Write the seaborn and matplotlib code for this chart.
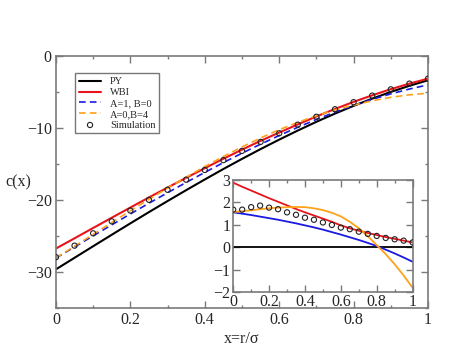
import matplotlib
matplotlib.use("Agg")
import matplotlib.pyplot as plt
from matplotlib.ticker import MultipleLocator
import seaborn as sns
import pandas as pd

# ---- data ----
x = [0.00, 0.05, 0.10, 0.15, 0.20, 0.25, 0.30, 0.35, 0.40, 0.45, 0.50,
     0.55, 0.60, 0.65, 0.70, 0.75, 0.80, 0.85, 0.90, 0.95, 1.00]

py_main = [-29.60, -28.00, -26.40, -24.81, -23.23, -21.67, -20.14, -18.63, -17.15, -15.70, -14.30,
           -12.94, -11.63, -10.37, -9.16, -8.02, -6.95, -5.95, -5.02, -4.17, -3.40]
wbi_main = [-26.72, -25.30, -23.87, -22.45, -21.04, -19.64, -18.27, -16.92, -15.59, -14.28, -13.02,
            -11.80, -10.65, -9.52, -8.42, -7.38, -6.40, -5.49, -4.64, -3.87, -3.18]
a1b0_main = [-28.04, -26.50, -24.96, -23.44, -21.93, -20.44, -18.99, -17.56, -16.17, -14.81, -13.51,
             -12.26, -11.06, -9.92, -8.83, -7.82, -6.89, -6.05, -5.29, -4.62, -4.04]
a0b4_main = [-28.03, -26.39, -24.75, -23.11, -21.49, -19.90, -18.35, -16.83, -15.36, -13.96, -12.64,
             -11.40, -10.25, -9.23, -8.31, -7.52, -6.85, -6.25, -5.77, -5.42, -5.20]
sim_main = [-27.92, -26.32, -24.61, -22.95, -21.46, -19.97, -18.58, -17.18, -15.83, -14.47, -13.19,
            -11.94, -10.75, -9.56, -8.46, -7.42, -6.44, -5.53, -4.66, -3.87, -3.18]

# inset: difference from PY
py_diff = [0.0] * 21
wbi_diff = [2.88, 2.70, 2.53, 2.36, 2.19, 2.03, 1.87, 1.71, 1.56, 1.42, 1.28,
            1.14, 0.98, 0.85, 0.74, 0.64, 0.55, 0.46, 0.38, 0.30, 0.22]
a1b0_diff = [1.56, 1.50, 1.44, 1.37, 1.30, 1.23, 1.15, 1.07, 0.98, 0.89, 0.79,
             0.68, 0.57, 0.45, 0.33, 0.20, 0.06, -0.10, -0.27, -0.45, -0.64]
a0b4_diff = [1.57, 1.61, 1.65, 1.70, 1.74, 1.77, 1.79, 1.80, 1.79, 1.74, 1.66,
             1.54, 1.38, 1.14, 0.85, 0.50, 0.10, -0.30, -0.75, -1.25, -1.80]
sim_diff = [1.68, 1.68, 1.79, 1.86, 1.77, 1.70, 1.56, 1.45, 1.32, 1.23, 1.11,
            1.00, 0.88, 0.81, 0.70, 0.60, 0.51, 0.42, 0.36, 0.30, 0.22]

labels = ["PY", "WBI", "A=1, B=0", "A=0,B=4", "Simulation"]
main_x_ticks = [0, 0.2, 0.4, 0.6, 0.8, 1]
main_x_ticklabels = ["0", "0.2", "0.4", "0.6", "0.8", "1"]
main_y_ticks = [0, -10, -20, -30]
inset_y_ticks = [-2, -1, 0, 1, 2, 3]

# ---- style ----
sns.set_style("ticks")
plt.rcParams["font.family"] = ["Liberation Serif", "DejaVu Serif"]

C_BLACK = "#000000"
C_RED = "#e8141c"
C_BLUE = "#1a1ae0"
C_ORANGE = "#ffa21a"
SPINE = "#7a7a7a"

fig = plt.figure(figsize=(4.74, 3.64), dpi=100)
ax = fig.add_axes([0.118, 0.153, 0.785, 0.694])

df = pd.DataFrame({"x": x, "py": py_main, "wbi": wbi_main, "a1": a1b0_main,
                   "a0": a0b4_main, "sim": sim_main})

sns.lineplot(data=df, x="x", y="py", ax=ax, color=C_BLACK, lw=1.5, label=labels[0])
sns.lineplot(data=df, x="x", y="wbi", ax=ax, color=C_RED, lw=1.5, label=labels[1])
sns.lineplot(data=df, x="x", y="a1", ax=ax, color=C_BLUE, lw=1.2, label=labels[2],
             linestyle=(0, (4, 2.5)))
sns.lineplot(data=df, x="x", y="a0", ax=ax, color=C_ORANGE, lw=1.2, label=labels[3],
             linestyle=(0, (4, 2.5)))
sns.scatterplot(data=df, x="x", y="sim", ax=ax, marker="o", s=14, facecolor="none",
                edgecolor="#222222", linewidth=0.8, label=labels[4], zorder=5)

ax.set_xlim(0, 1)
ax.set_ylim(-35, 0)
ax.set_xticks(main_x_ticks)
ax.set_xticklabels(main_x_ticklabels)
ax.set_yticks(main_y_ticks)
ax.xaxis.set_minor_locator(MultipleLocator(0.1))
ax.yaxis.set_minor_locator(MultipleLocator(5))
ax.tick_params(which="both", direction="in", top=True, right=True, color=SPINE,
               labelsize=11.5, pad=3)
ax.tick_params(which="major", length=5, width=1)
ax.tick_params(which="minor", length=2.5, width=1)
for s in ax.spines.values():
    s.set_color(SPINE)
    s.set_linewidth(1.2)
ax.set_xlabel("x=r/σ", fontsize=11.5, labelpad=2)
ax.set_ylabel("c(x)", fontsize=11.5, rotation=0, va="center", ha="center")
ax.yaxis.set_label_coords(-0.1, 0.5)

leg = ax.legend(loc="upper left", bbox_to_anchor=(0.051, 0.930), borderaxespad=0,
                fontsize=7.5, frameon=True, fancybox=False, handlelength=2.2,
                handletextpad=0.8, labelspacing=0.15, borderpad=0.35)
leg.get_frame().set_edgecolor("#555555")
leg.get_frame().set_linewidth(1.0)

# ---- inset ----
axi = fig.add_axes([0.492, 0.197, 0.3785, 0.3085])
dfi = pd.DataFrame({"x": x, "py": py_diff, "wbi": wbi_diff, "a1": a1b0_diff,
                    "a0": a0b4_diff, "sim": sim_diff})
sns.lineplot(data=dfi, x="x", y="py", ax=axi, color=C_BLACK, lw=1.3)
sns.lineplot(data=dfi, x="x", y="wbi", ax=axi, color=C_RED, lw=1.3)
sns.lineplot(data=dfi, x="x", y="a1", ax=axi, color=C_BLUE, lw=1.3)
sns.lineplot(data=dfi, x="x", y="a0", ax=axi, color=C_ORANGE, lw=1.3)
sns.scatterplot(data=dfi, x="x", y="sim", ax=axi, marker="o", s=14, facecolor="none",
                edgecolor="#222222", linewidth=0.8, zorder=5)
axi.set_xlim(0, 1)
axi.set_ylim(-2, 3)
axi.set_xticks(main_x_ticks)
axi.set_xticklabels(main_x_ticklabels)
axi.set_yticks(inset_y_ticks)
axi.xaxis.set_minor_locator(MultipleLocator(0.1))
axi.tick_params(which="both", direction="in", top=True, right=True, color=SPINE,
                labelsize=11.5)
axi.tick_params(axis="x", pad=1)
axi.tick_params(axis="y", pad=2)
axi.tick_params(which="major", length=5, width=1)
axi.tick_params(which="minor", length=2.5, width=1)
for s in axi.spines.values():
    s.set_color(SPINE)
    s.set_linewidth(1.2)
axi.set_xlabel("")
axi.set_ylabel("")

fig.savefig("out.png", dpi=100)
